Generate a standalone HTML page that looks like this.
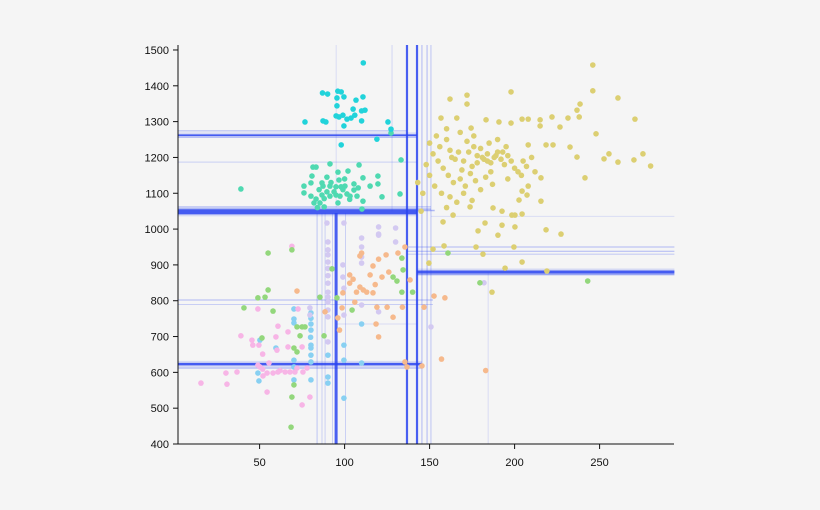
<!DOCTYPE html>
<html><head><meta charset="utf-8"><style>
html,body{margin:0;padding:0;background:#f5f5f5;}
svg{display:block;font-family:"Liberation Sans","DejaVu Sans",sans-serif;}
</style></head><body>
<svg id="chart" width="820" height="510" viewBox="0 0 820 510">
<rect width="820" height="510" fill="#f5f5f5"/>
<g id="lines"></g>
<g id="points"></g>
<g id="axes"></g>
</svg>
<script>
const xTicks=[50,100,150,200,250];
const yTicks=[400,500,600,700,800,900,1000,1100,1200,1300,1400,1500];
const cyan=[[111,1464],[87,1380],[90,1377],[96,1385],[98,1383],[95.5,1366],[99.6,1369],[106.7,1360],[110.8,1369],[95.5,1344],[105,1335],[110,1330],[112,1332],[99,1318],[95,1316],[96.7,1313],[101.4,1307],[103.8,1310],[106,1318],[87.3,1302],[89,1299],[76.7,1299],[110,1302],[99.6,1288],[125.5,1299],[127.3,1279],[119,1251],[98,1235]];
const teal=[[81.4,1173],[83.2,1173],[91.4,1182],[108.5,1179],[80.8,1148],[89.6,1145],[96.1,1159],[102,1162],[110.8,1143],[86.7,1129],[96.7,1137],[105.5,1126],[119.6,1148],[119.6,1126],[76.1,1120],[80.2,1129],[87.3,1120],[91.4,1120],[94.9,1118],[97.9,1118],[100.2,1120],[105.5,1109],[76.1,1101],[80.2,1092],[83.2,1084],[86.7,1095],[91.4,1092],[94.9,1095],[97.3,1092],[101.4,1098],[103.2,1092],[107.3,1092],[110.8,1078],[93.8,1104],[89.6,1104],[82,1073],[85.5,1073],[96.1,1073],[110.2,1056],[39,1112],[132.6,1098],[133.2,1193],[127.3,1268],[122,1090],[84,1060],[88,1062],[99,1110],[92,1130],[100,1140],[85,1110],[88,1085],[103,1083],[108,1115],[115,1120]];
const olive=[[246,1458],[246,1386],[260.8,1366],[197.9,1383],[172,1374],[172,1349],[162,1363],[238.5,1349],[236.7,1332],[238,1313],[231.4,1310],[222,1313],[215,1305],[215,1288],[204.4,1307],[208,1307],[190.8,1299],[183.2,1305],[197.9,1296],[226.7,1285],[270.8,1307],[247.9,1266],[174.4,1282],[166,1310],[156.7,1310],[241.4,1143],[252.6,1196],[255.5,1210],[260.8,1187],[270.2,1193],[275.5,1210],[280,1176],[236.7,1201],[232.6,1229],[218.5,1235],[222.6,1235],[208,1235],[215.5,1143],[215.5,1078],[218.5,998],[227.3,986],[204.4,1106],[207.3,1095],[200.2,1039],[200.2,1006],[199.6,950],[192.6,1011],[190.2,983],[182.6,1017],[178.5,995],[187.3,1059],[192.6,1050],[198.4,1039],[204.4,1042],[202.6,1081],[157.9,1020],[163.8,1039],[173.8,1062],[204.4,908],[194.4,891],[219,883],[186.7,824],[177.3,950],[181.4,930],[158.5,953],[152,944],[149.6,905],[156,1230],[160,1250],[163,1200],[167,1215],[170,1190],[172,1245],[175,1175],[178,1205],[180,1225],[182,1195],[184,1210],[186,1185],[188,1200],[190,1215],[192,1195],[194,1180],[196,1205],[198,1190],[200,1170],[202,1160],[205,1190],[207,1175],[210,1200],[212,1160],[158,1170],[161,1150],[164,1130],[168,1140],[171,1120],[174,1155],[177,1135],[180,1110],[183,1145],[187,1125],[155,1190],[152,1210],[150,1150],[153,1120],[157,1100],[162,1090],[166,1075],[170,1100],[185,1240],[190,1250],[195,1230],[176,1260],[168,1270],[160,1280],[154,1260],[150,1240],[148,1180],[146,1100],[145,1050],[143,1130],[186,1160],[196,1140],[204,1150],[208,1120],[160,1060],[175,1080],[165,1195],[178,1185],[184,1190],[189,1205],[169,1165],[173,1215],[181,1200],[193,1215],[162,1220],[176,1230]];
const orange=[[109,925],[110,933],[116.7,897],[120,916],[124.4,928],[131.4,933],[135.5,950],[115,872],[122,866],[109,838],[113,824],[116.7,822],[107,824],[103,872],[103,849],[99,822],[106,796],[119,782],[125,782],[128.5,754],[118.5,735],[120,699],[97,718],[96,752],[98.5,780],[88.5,769],[146.7,782],[152.6,813],[159,808],[157,637],[135.5,629],[145.5,618],[136.7,615],[138.5,858],[134,782],[72,827],[183,605],[111,830],[118,845],[105,860],[126,880]];
const lavender=[[90.2,964],[90.2,942],[90.2,928],[90.2,908],[90.2,849],[90.2,824],[90.2,810],[90.2,796],[90.2,774],[90.2,755],[90.2,685],[99,900],[99,866],[99.6,835],[99.6,760],[110,975],[110,950],[110,922],[110,905],[120,983],[130,964],[120,769],[110,788],[79.6,780],[79.6,760],[150.8,727],[89.6,1017],[99.6,1017],[120,1006],[120,986],[130,1003],[182,850],[90.2,890],[90.2,870]];
const pink=[[15.5,570],[30.8,567],[30.2,598],[36.7,601],[49,620],[51.8,609],[54.4,598],[57.9,598],[60.8,601],[65,601],[67.9,601],[70.8,601],[75.5,601],[77.9,612],[50.2,615],[46,676],[45.5,690],[39,702],[49.6,676],[51.8,651],[54.4,545],[75,509],[79.6,531],[60.8,729],[66.7,713],[59.6,699],[60.2,662],[66.7,671],[75,671],[55.5,626],[49,777],[72.6,777],[69,952],[52,590],[62,605],[72,612]];
const green=[[55,933],[69,942],[49,808],[53.2,810],[55,830],[40.8,780],[57.9,771],[72,727],[75,727],[76.7,727],[73.8,702],[51.4,696],[70.2,668],[72,657],[70.2,565],[69,531],[68.5,447],[87.9,702],[85.5,810],[92.6,889],[95.5,808],[104.4,774],[128.5,866],[130.8,855],[133.7,919],[133.7,824],[140,824],[134.4,886],[160.8,933],[179.6,850],[243,855]];
const lightblue=[[70.2,777],[70.2,749],[70.2,738],[80.2,766],[80.2,751],[80.2,735],[80.2,718],[80.2,676],[80.2,668],[80.2,648],[80.2,629],[80.2,579],[90.2,648],[90.2,587],[90.2,570],[99.6,676],[99.6,634],[99.6,528],[110,735],[110,626],[70.2,634],[70.2,615],[70.2,579],[49.6,576],[49,598],[59.6,668],[50.2,690],[80,698]];
// vertical lines: [x, yFrom, yTo, weight]
const vLines=[[95,1045,400,3],[136.7,1515,400,2.2],[142.6,1515,400,2.2],[145.5,1515,400,1],[148.5,1515,400,1],[150.8,1515,400,0.8],[83.8,1045,400,0.8],[86.7,1045,400,0.6],[88.5,1045,400,0.6],[93,1045,400,0.6],[100.5,1045,400,0.6],[127.9,1515,1050,0.5],[95,1515,1060,0.4],[184.4,880,400,0.4]];
// horizontal lines: [y, xFrom, xTo, weight]
const hLines=[[1048,2,142.6,5],[1056,2,150.8,1.4],[1062,2,150.8,1],[1052,142.6,153,1.5],[1274,2,136.7,1],[1262,2,142.6,1.6],[1257,2,142.6,1],[1187,2,142.6,0.6],[623,2,145.5,2.4],[612,2,145.5,1.2],[802,2,152,1],[790,2,152,0.7],[735,95,142.6,0.4],[950,136.7,294,1],[938,136.7,294,1],[930,136.7,294,0.7],[880,142.6,294,3.2],[873,142.6,294,1.2],[1036,150.8,294,0.4]];

const X0=2, PX0=178, SX=1.7, Y0=400, PY0=444, SY=0.3582;
const xs=v=>PX0+(v-X0)*SX;
const ys=v=>PY0-(v-Y0)*SY;
const NS='http://www.w3.org/2000/svg';
function mk(t,attrs){const e=document.createElementNS(NS,t);for(const k in attrs)e.setAttribute(k,attrs[k]);return e;}
const gl=document.getElementById('lines'),gp=document.getElementById('points'),ga=document.getElementById('axes');
const XMAX=xs(294);
vLines.forEach(l=>{
  const e=mk('line',{x1:xs(l[0]),x2:xs(l[0]),y1:Math.max(45,ys(l[1])),y2:ys(l[2]),stroke:'#2a44f0','stroke-width':l[3],'stroke-opacity':l[3]>1.5?0.85:0.35});
  
  
  gl.appendChild(e);
});
hLines.forEach(l=>{
  if(l[3]>1.5){
    const h=mk('line',{y1:ys(l[0]),y2:ys(l[0]),x1:xs(l[1]),x2:Math.min(XMAX,xs(l[2])),stroke:'#2a44f0','stroke-width':l[3]+4,'stroke-opacity':0.15});
    
    
    gl.appendChild(h);
  }
  const e=mk('line',{y1:ys(l[0]),y2:ys(l[0]),x1:xs(l[1]),x2:Math.min(XMAX,xs(l[2])),stroke:'#2a44f0','stroke-width':l[3],'stroke-opacity':l[3]>1.5?0.85:0.35});
  
  
  gl.appendChild(e);
});
const series=[[olive,'#dccf72','olive-point'],[lightblue,'#88d0f2','lightblue-point'],[lavender,'#d3c9f1','lavender-point'],[orange,'#f6b98c','orange-point'],[pink,'#f7b5e6','pink-point'],[green,'#93d77c','green-point'],[teal,'#4fd9b1','teal-point'],[cyan,'#21d3da','cyan-point']];
series.forEach(s=>{
  s[0].forEach(p=>{
    const c=mk('circle',{cx:xs(p[0]),cy:ys(p[1]),r:2.8,fill:s[1]});
    
    
    gp.appendChild(c);
  });
});
const ySp=mk('line',{x1:178,x2:178,y1:45,y2:444,stroke:'#111','stroke-width':1});


ga.appendChild(ySp);
const xSp=mk('line',{x1:178,x2:674,y1:444,y2:444,stroke:'#111','stroke-width':1});


ga.appendChild(xSp);
yTicks.forEach(v=>{
  const y=ys(v);
  const t=mk('line',{x1:173,x2:178,y1:y,y2:y,stroke:'#111'});
  
  
  ga.appendChild(t);
  const tx=mk('text',{x:169,y:y+4,'text-anchor':'end','font-size':11,fill:'#111'});
  tx.textContent=v;
  
  
  ga.appendChild(tx);
});
xTicks.forEach(v=>{
  const x=xs(v);
  const t=mk('line',{x1:x,x2:x,y1:444,y2:449,stroke:'#111'});
  
  
  ga.appendChild(t);
  const tx=mk('text',{x:x,y:466,'text-anchor':'middle','font-size':11,fill:'#111'});
  tx.textContent=v;
  
  
  ga.appendChild(tx);
});
</script>
</body></html>
